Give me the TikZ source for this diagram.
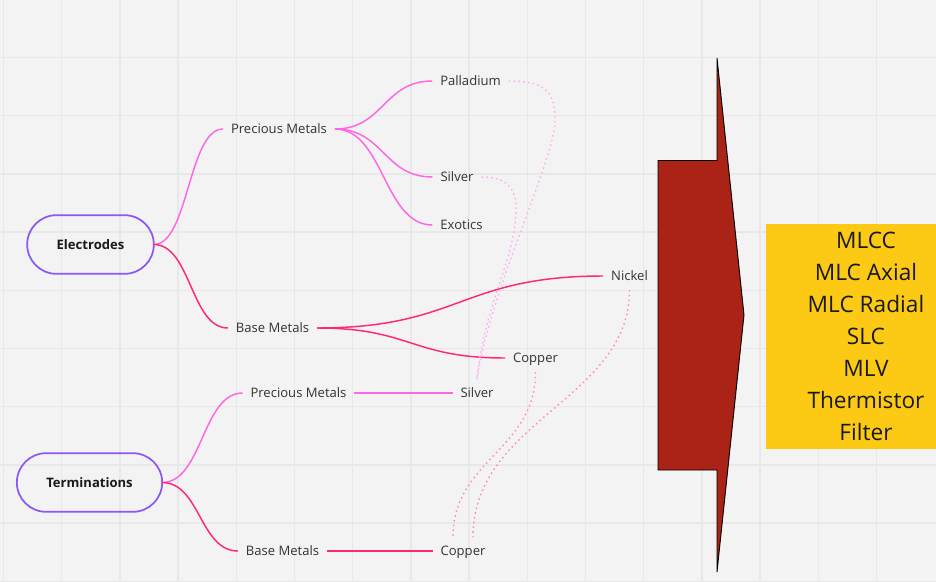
\documentclass[tikz,border=0pt]{standalone}
\usepackage{fontspec}
\setmainfont{Open Sans}
\usetikzlibrary{calc}
\definecolor{mypurple}{RGB}{140,88,245}
\definecolor{mypink}{RGB}{255,102,230}
\definecolor{myred}{RGB}{255,40,120}
\definecolor{arrowred}{RGB}{170,35,22}
\definecolor{boxyellow}{RGB}{252,201,21}
\definecolor{txtgray}{RGB}{51,51,51}
\definecolor{txtdark}{RGB}{26,26,26}
\definecolor{gridbg}{RGB}{243,243,243}
\definecolor{gridline}{RGB}{232,232,232}
\tikzset{
  mindmappic/.style={
    x=0.75pt,y=-0.75pt
    ,inner sep=0pt
    ,outer sep=0pt
  }
  ,pill/.style={rectangle,rounded corners=22pt,draw=mypurple,line width=1.3pt
    ,minimum height=44pt,font={\fontsize{9.8}{12}\selectfont\bfseries\color{txtdark}}}
  ,leafname/.style={
    font={\fontsize{9.8}{12}\selectfont\color{txtgray}}
    ,inner xsep=6pt,inner ysep=7pt
    ,text height=7pt,text depth=0pt
  }
  ,precbranch/.style={draw=mypink,line width=1.1pt}
  ,basebranch/.style={draw=myred,line width=1.1pt}
  ,precdots/.style={draw=mypink!55,line width=1pt,dash pattern=on 1.2pt off 2.4pt}
  ,basedots/.style={draw=myred!55,line width=1pt,dash pattern=on 1.2pt off 2.4pt}
  ,gridrule/.style={draw=gridline,line width=1pt}
  ,bigarrow/.style={fill=arrowred,draw=black,line width=0.7pt,line join=miter}
  ,outbox/.style={fill=boxyellow,minimum width=150pt,minimum height=168.75pt
    ,align=center,font={\fontsize{17}{24}\selectfont\color{txtdark}}}
}
\newcommand\branch[3][precbranch]{
  \coordinate (brmid) at ($(#2)!.5!(#3)$);
  \draw[#1] (#2) .. controls (brmid |- #2) and (brmid |- #3) .. (#3);
}

\begin{document}
\begin{tikzpicture}[mindmappic]
    % canvas and grid
    \clip (0,0) rectangle (936,582);
    \fill[gridbg] (0,0) rectangle (936,582);
    \foreach \gx in {0,...,15}{
      \draw[gridrule] ({3.5+58.2*\gx},0) -- ++(0,582);
    }
    \foreach \gy in {0,...,10}{
      \draw[gridrule] (0,{-0.7+58.2*\gy}) -- ++(936,0);
    }
    % electrodes
    \node[pill,minimum width=95pt] (elec) at (90.5,244.5) {Electrodes};
    \node[leafname] (elecpm) at (279,129) {Precious Metals};
    \node[leafname] (elecbm) at (272.5,328) {Base Metals};
    \node[leafname] (pall) at (470.5,81) {Palladium};
    \node[leafname] (elecag) at (457,177) {Silver};
    \node[leafname] (exot) at (461.5,225) {Exotics};
    \node[leafname] (nick) at (629.5,276) {Nickel};
    \node[leafname] (eleccu) at (535.5,358) {Copper};
    \branch{elec.east}{elecpm.west}
    \branch[basebranch]{elec.east}{elecbm.west}
    \branch{elecpm.east}{pall.west}
    \branch{elecpm.east}{elecag.west}
    \branch{elecpm.east}{exot.west}
    \branch[basebranch]{elecbm.east}{nick.west}
    \branch[basebranch]{elecbm.east}{eleccu.west}
    % terminations
    \node[pill,minimum width=109pt] (term) at (89.5,482.5) {Terminations};
    \node[leafname] (termpm) at (298.5,393) {Precious Metals};
    \node[leafname] (termag) at (477,393) {Silver};
    \node[leafname] (termbm) at (282.5,551) {Base Metals};
    \node[leafname] (termcu) at (463,551) {Copper};
    \branch{term.east}{termpm.west}
    \branch[basebranch]{term.east}{termbm.west}
    \branch{termpm.east}{termag.west}
    \branch[basebranch]{termbm.east}{termcu.west}
    % shared materials
    \draw[precdots] (pall.east) .. controls +(38,0) and +(0,-27) .. (555,120)
      .. controls +(0,40) and +(13,-89) .. (termag.north);
    \draw[precdots] (elecag.east) .. controls +(25,0) and +(0,-20) .. (516,208)
      .. controls +(0,52) and +(8,-79) .. (termag.north);
    \draw[basedots] (eleccu.south) .. controls +(0,78) and +(0,-77)
      .. ([xshift=-7.5pt]termcu.north);
    \draw[basedots] (nick.south) .. controls +(0,110) and +(0,-117)
      .. ([xshift=7.5pt]termcu.north);
    % products
    \draw[bigarrow] (658,160.5) -- (717,160.5) -- (717,58) -- (744,315)
      -- (717,572) -- (717,470) -- (658,470) -- cycle;
    \node[outbox] (prods) at (866,336.5) {MLCC\\MLC Axial\\MLC Radial\\SLC\\MLV\\Thermistor\\Filter};
\end{tikzpicture}
\end{document}
